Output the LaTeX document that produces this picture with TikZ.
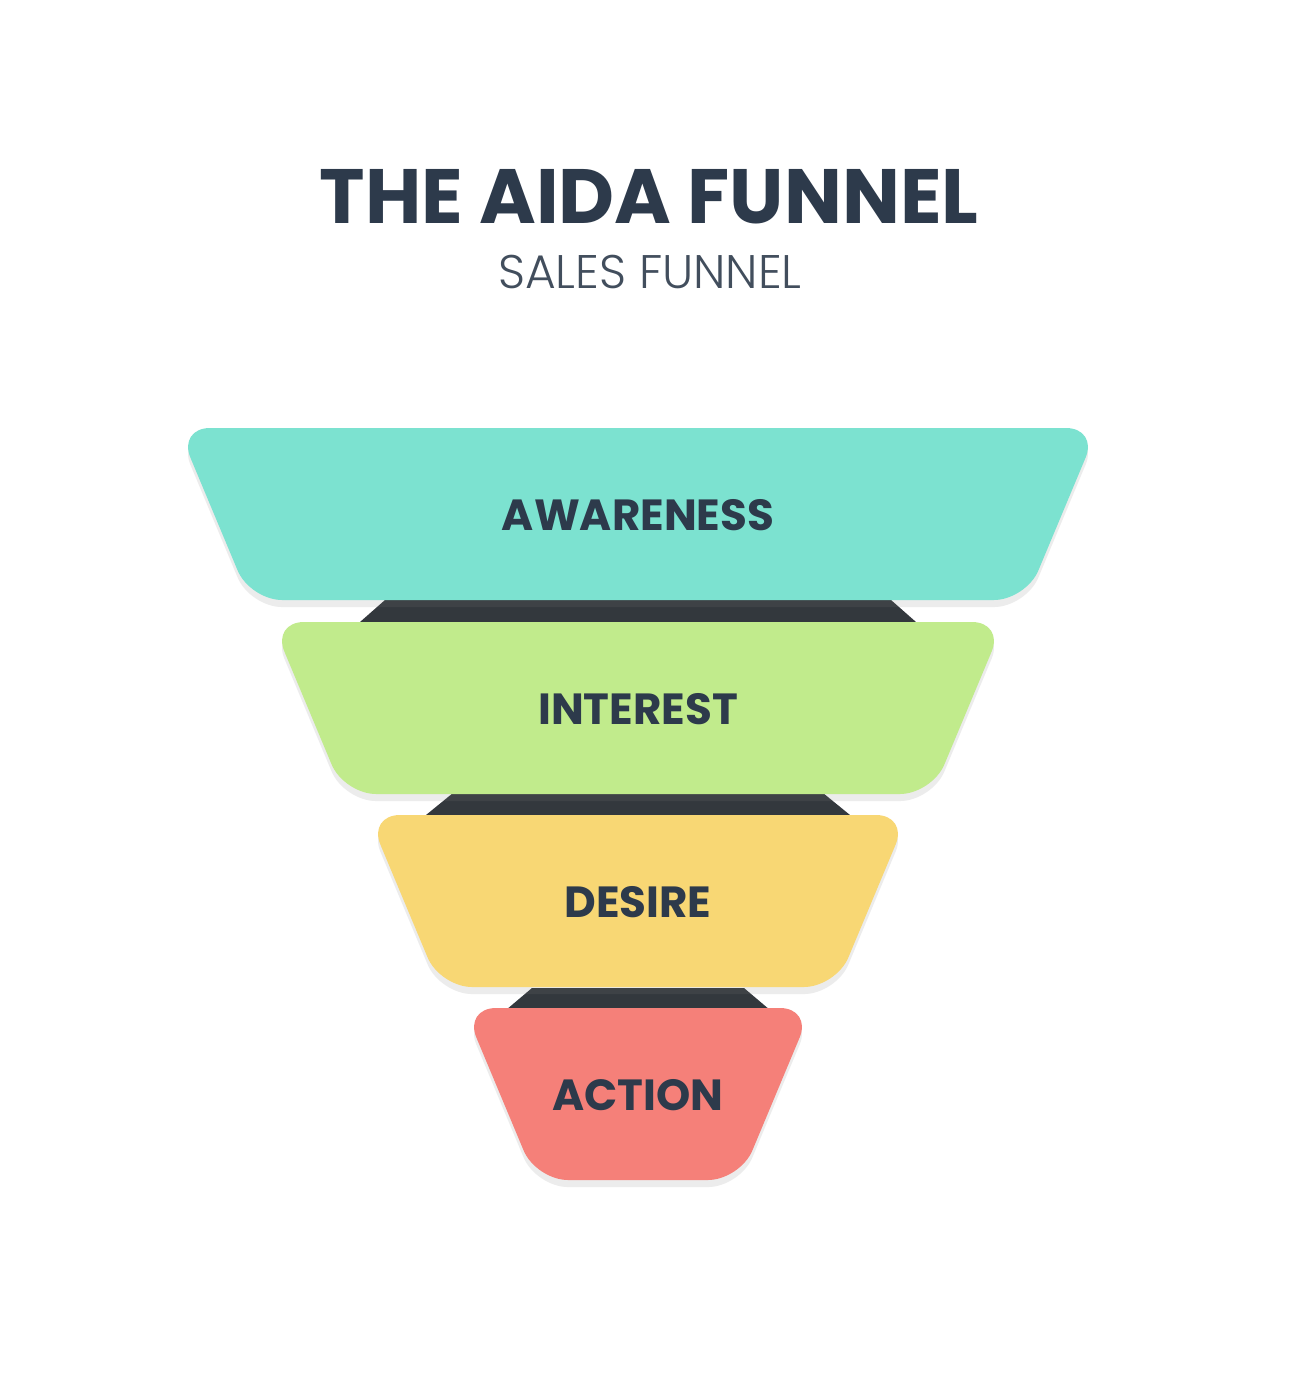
\documentclass[tikz,border=0pt]{standalone}
\usepackage{fontspec}
\setmainfont{Poppins}
\newfontfamily\thinfont{Poppins Light}
\usetikzlibrary{shadows}
\definecolor{ink}{HTML}{2D3A4B}
\definecolor{stripgray}{HTML}{33383D}
\definecolor{bandA}{HTML}{7CE2D0}
\definecolor{bandI}{HTML}{C1EB8C}
\definecolor{bandD}{HTML}{F8D774}
\definecolor{bandX}{HTML}{F58079}

\begin{document}
\begin{tikzpicture}[
  x=0.01cm, y=-0.01cm,
  band/.style={rounded corners=0.32cm,
    drop shadow={opacity=0.15, shadow xshift=0pt, shadow yshift=-2pt}},
  steplabel/.style={text=ink, font=\bfseries\fontsize{12.4}{15}\selectfont},
]
\useasboundingbox[fill=white] (0,0) rectangle (1300,1390);
\node[text=ink, font=\bfseries\fontsize{21.9}{26}\selectfont] (title) at (649,197) {THE AIDA FUNNEL};
\node[text=ink!90, font=\thinfont\fontsize{13.4}{16}\selectfont] (subtitle) at (650,272) {SALES FUNNEL};
\foreach \y/\t/\b in {600/253/278, 793/185/212, 988/106/132}
  \fill[stripgray] (638-\t,\y) -- (638+\t,\y) -- (638+\b,\y+22) -- (638-\b,\y+22) -- cycle;
\foreach \y/\w/\c/\n/\txt in {428/460/bandA/aware/AWARENESS, 622/366/bandI/interest/INTEREST,
    815/270/bandD/desire/DESIRE, 1008/174/bandX/action/ACTION} {
  \fill[band, \c] (638-\w,\y) -- (638+\w,\y) -- (638+\w-72,\y+172) -- (638-\w+72,\y+172) -- cycle;
  \node[steplabel] (\n) at (638,\y+87) {\txt};
}
\end{tikzpicture}
\end{document}
